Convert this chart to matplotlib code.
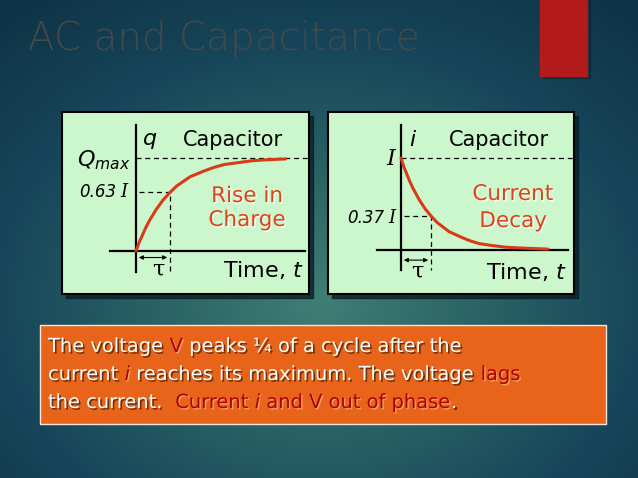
import numpy as np
import matplotlib
matplotlib.use("Agg")
import matplotlib.pyplot as plt
from matplotlib.patches import Rectangle
from matplotlib.colors import LinearSegmentedColormap
import matplotlib.patheffects as pe

# ---- data ----
# rise in charge, t in units of tau, q in units of Qmax
charge_t = [0, 0.1, 0.2, 0.3, 0.4, 0.5, 0.6, 0.7, 0.8, 0.9, 1.0, 1.2, 1.4, 1.6, 1.8,
            2.0, 2.3, 2.6, 3.0, 3.4, 3.8, 4.4]
charge_q = [0, 0.10, 0.18, 0.26, 0.33, 0.39, 0.45, 0.50, 0.55, 0.59, 0.63, 0.70, 0.75,
            0.80, 0.83, 0.86, 0.90, 0.93, 0.95, 0.97, 0.98, 0.99]
# current decay, t in units of tau, i in units of I
decay_t = [0, 0.1, 0.2, 0.3, 0.4, 0.5, 0.6, 0.7, 0.8, 0.9, 1.0, 1.2, 1.4, 1.6, 1.8,
           2.0, 2.3, 2.6, 3.0, 3.5, 4.1, 4.9]
decay_i = [1.0, 0.90, 0.82, 0.74, 0.67, 0.61, 0.55, 0.50, 0.45, 0.41, 0.37, 0.30, 0.25,
           0.20, 0.17, 0.14, 0.10, 0.07, 0.05, 0.03, 0.02, 0.01]
charge_mark = 0.63
decay_mark = 0.37

title = "AC and Capacitance"
lines = [
    [("The voltage ", "w", False), ("V", "r", False), (" peaks \u00bc of a cycle after the", "w", False)],
    [("current ", "w", False), ("i", "r", True), (" reaches its maximum. The voltage ", "w", False), ("lags", "r", False)],
    [("the current.  ", "w", False), ("Current ", "r", False), ("i", "r", True),
     (" and V out of phase", "r", False), (".", "w", False)],
]

W, H = 638, 478
fig = plt.figure(figsize=(W / 100, H / 100), dpi=100)
ax = fig.add_axes([0, 0, 1, 1])
ax.set_xlim(0, W)
ax.set_ylim(H, 0)
ax.axis("off")

# background radial gradient
yy, xx = np.mgrid[0:H, 0:W]
r = np.sqrt(((xx - 320) / 480.0) ** 2 + ((yy - 300) / 380.0) ** 2)
bg = LinearSegmentedColormap.from_list("bg", ["#3f7e75", "#2a6365", "#17465a", "#0f3346"])
ax.imshow(np.clip(r, 0, 1), cmap=bg, extent=[0, W, H, 0], aspect="auto", zorder=0)

# title and red tab
ax.text(28, 50, title, fontsize=28, color="#44494a", fontweight="light", va="baseline", zorder=2)
ax.add_patch(Rectangle((543, 0), 47, 78, color="#0b2633", alpha=0.5, zorder=1))
ax.add_patch(Rectangle((540, 0), 47, 76, color="#b31b1b", zorder=2))

green = "#ccf7cc"
curve_col = "#d93a1a"
label_col = "#e0421a"


def panel_box(x0, x1, y0, y1):
    ax.add_patch(Rectangle((x0 + 4, y0 + 4), x1 - x0, y1 - y0, color="#0a1f28", alpha=0.8, zorder=2))
    ax.add_patch(Rectangle((x0, y0), x1 - x0, y1 - y0, facecolor=green, edgecolor="black", lw=1.5, zorder=3))


def panel_axes(x0, x1, y0, y1, ox, oy, tau_px, unit_px):
    pa = fig.add_axes([x0 / W, 1 - y1 / H, (x1 - x0) / W, (y1 - y0) / H])
    pa.set_xlim((x0 - ox) / tau_px, (x1 - ox) / tau_px)
    pa.set_ylim((oy - y1) / unit_px, (oy - y0) / unit_px)
    pa.patch.set_alpha(0)
    pa.axis("off")
    return pa


# left panel: rise in charge
panel_box(62, 309, 112, 294)
pl = panel_axes(62, 309, 112, 294, 136, 251, 34, 93)
pl.plot([-0.76, 4.97], [0, 0], color="black", lw=1.6)
pl.plot([0, 0], [-0.23, 1.36], color="black", lw=1.6)
pl.plot([0, 5.05], [1, 1], color="black", lw=0.9, ls=(0, (4, 3)))
pl.plot([0.1, 1, 1], [charge_mark, charge_mark, -0.23], color="black", lw=0.9, ls=(0, (4, 3)))
pl.plot(charge_t, charge_q, color=curve_col, lw=2.2, solid_capstyle="round")
pl.annotate("", xy=(0, -0.07), xytext=(1, -0.07),
            arrowprops=dict(arrowstyle="<|-|>", color="black", lw=0.8, mutation_scale=6))

# right panel: current decay
panel_box(328, 574, 112, 294)
pr = panel_axes(328, 574, 112, 294, 401, 250, 30, 92)
pr.plot([-0.8, 5.57], [0, 0], color="black", lw=1.6)
pr.plot([0, 0], [-0.22, 1.36], color="black", lw=1.6)
pr.plot([0, 5.75], [1, 1], color="black", lw=0.9, ls=(0, (4, 3)))
pr.plot([0.1, 1, 1], [decay_mark, decay_mark, -0.22], color="black", lw=0.9, ls=(0, (4, 3)))
pr.plot(decay_t, decay_i, color=curve_col, lw=2.2, solid_capstyle="round")
pr.annotate("", xy=(0, -0.11), xytext=(1, -0.11),
            arrowprops=dict(arrowstyle="<|-|>", color="black", lw=0.8, mutation_scale=6))

# panel labels (pixel coords, drawn on top)
txt = dict(va="baseline", zorder=10)
shadow = [pe.withSimplePatchShadow(offset=(1, -1), shadow_rgbFace="#ffffff", alpha=0.8)]

fs_lab = 15
ax.text(150, 145, "q", fontsize=16, style="italic", ha="center", **txt)
ax.text(233, 146, "Capacitor", fontsize=fs_lab, ha="center", **txt)
ax.text(131, 166, r"$Q_{max}$", fontsize=16, ha="right", **txt)
ax.text(116, 197, "0.63", fontsize=12, style="italic", ha="right", **txt)
ax.text(127, 197, "I", fontsize=13, style="italic", family="DejaVu Serif", ha="right", **txt)
ax.text(247, 202, "Rise in", fontsize=15.5, ha="center", color=label_col, path_effects=shadow, **txt)
ax.text(247, 226, "Charge", fontsize=15.5, ha="center", color=label_col, path_effects=shadow, **txt)
ax.text(158, 276, "\u03c4", fontsize=16, family="DejaVu Serif", ha="center", **txt)
ax.text(304, 277, "Time, $t$", fontsize=16, ha="right", **txt)

ax.text(395, 165, "I", fontsize=16, style="italic", family="DejaVu Serif", ha="right", **txt)
ax.text(412, 146, "i", fontsize=16, style="italic", ha="center", **txt)
ax.text(499, 146, "Capacitor", fontsize=fs_lab, ha="center", **txt)
ax.text(384, 223, "0.37", fontsize=12, style="italic", ha="right", **txt)
ax.text(395, 223, "I", fontsize=13, style="italic", family="DejaVu Serif", ha="right", **txt)
ax.text(513, 200, "Current", fontsize=15.5, ha="center", color=label_col, path_effects=shadow, **txt)
ax.text(513, 227, "Decay", fontsize=15.5, ha="center", color=label_col, path_effects=shadow, **txt)
ax.text(417, 278, "\u03c4", fontsize=16, family="DejaVu Serif", ha="center", **txt)
ax.text(567, 279, "Time, $t$", fontsize=16, ha="right", **txt)

# orange note box
ax.add_patch(Rectangle((40, 325), 566, 99, facecolor="#e8641a", edgecolor="#f4e6dc", lw=1.0, zorder=3))

fig.canvas.draw()
renderer = fig.canvas.get_renderer()
cols = {"w": "#ffffff", "r": "#b00000"}
shadows = {"w": [pe.withSimplePatchShadow(offset=(1.2, -1.2), shadow_rgbFace="#3a1a00", alpha=0.7)],
           "r": [pe.withSimplePatchShadow(offset=(1.0, -1.0), shadow_rgbFace="#f7c9a0", alpha=0.6)]}
inv = ax.transData.inverted()
for k, parts in enumerate(lines):
    x = 48
    y = 352 + 28 * k
    for s, c, it in parts:
        t = ax.text(x, y, s, fontsize=14, color=cols[c], style="italic" if it else "normal",
                    va="baseline", zorder=10, path_effects=shadows[c])
        bb = t.get_window_extent(renderer)
        x = inv.transform((bb.x1, bb.y0))[0]

fig.savefig("out.png", dpi=100)
